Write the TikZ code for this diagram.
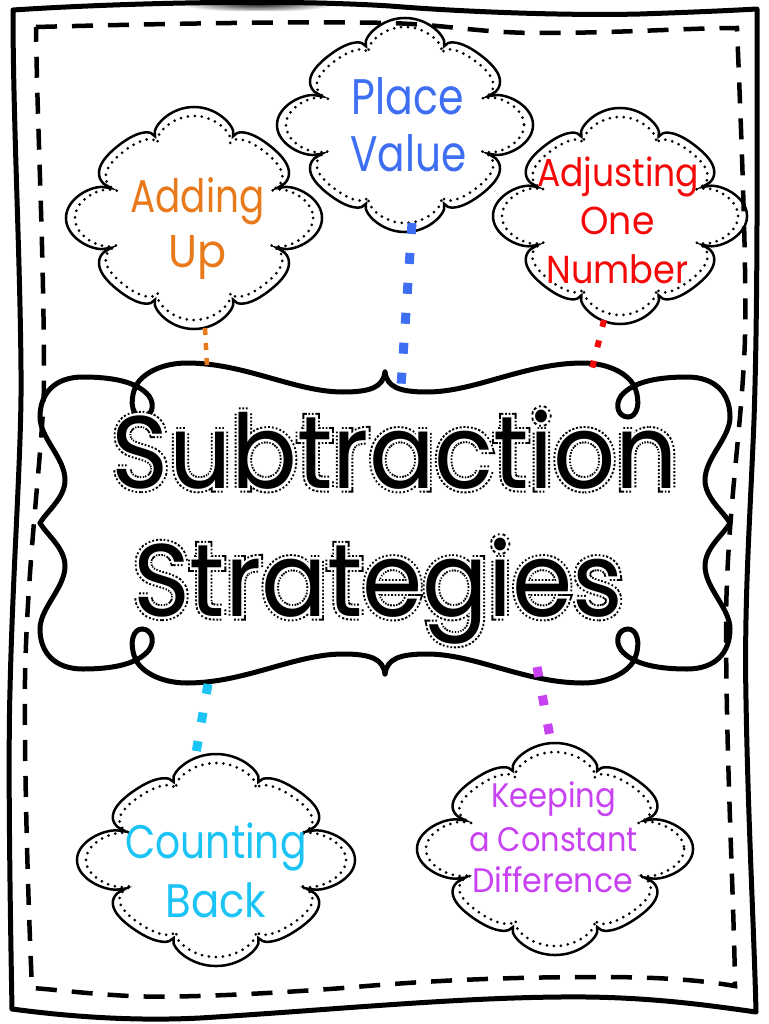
\documentclass[tikz,border=0pt]{standalone}
\usepackage{fontspec}
\usepackage{graphicx}
\newfontfamily\pop{Poppins}
\definecolor{cOrange}{RGB}{232,122,28}
\definecolor{cBlue}{RGB}{62,110,242}
\definecolor{cRed}{RGB}{244,8,8}
\definecolor{cCyan}{RGB}{28,196,245}
\definecolor{cPurple}{RGB}{200,66,242}
\newcommand\fitline[3]{{\fontsize{#1}{#1}\selectfont\resizebox{#2pt}{\height}{#3}}}
\newcommand\dotglyphs[1]{%
  \rlap{\special{pdf:literal direct 1 Tr 9 w [1.8 1.8] 0 d 0 J 0 G}#1\special{pdf:literal direct 0 Tr}}%
  \rlap{\special{pdf:literal direct 1 Tr 5 w [] 0 d 1 G}#1\special{pdf:literal direct 0 Tr}}%
  #1}
\newcommand\fq{(0,151) .. controls (2,136) and (14,131) .. (42,131)
  .. controls (90,131) and (140,160) .. (198,160)
  .. controls (225,160) and (245,148) .. (250,135)
  .. controls (256,120) and (252,106) .. (243,106)
  .. controls (234,106) and (229,117) .. (236,127)
  .. controls (248,142) and (275,146) .. (302,146)
  .. controls (330,146) and (345,130) .. (345,106)
  .. controls (345,85) and (320,65) .. (320,43)
  .. controls (320,25) and (338,12) .. (345,0)}
\tikzset{
  border/.style={line width=5pt, line join=round},
  dashframe/.style={line width=4.5pt, dash pattern=on 21pt off 15pt},
  cloudout/.style={fill=white, draw=black, line width=2.5pt},
  clouddot/.style={draw=black, line width=3pt, line cap=round, dash pattern=on 0pt off 7pt},
  frameline/.style={line width=5pt, line cap=round},
  ctext/.style={inner sep=0pt, anchor=base, font=\pop},
  link/.style={line cap=butt}
}
\newcommand\flower[4]{%
  \filldraw[cloudout] plot[domain=0:360,samples=289,variable=\t]
    ({#1+#3*cf(\t)*cos(\t)},{#2+#4*cf(\t)*sin(\t)}) -- cycle;
  \draw[clouddot] plot[domain=0:360,samples=289,variable=\t]
    ({#1+(#3-9)*cf(\t)*cos(\t)},{#2+(#4-9)*cf(\t)*sin(\t)}) -- cycle;
}
\begin{document}
\begin{tikzpicture}[x=1pt, y=-1pt,
  declare function={ck(\t)=0.74-0.07*cos(2*\t);
    cf(\t)=ck(\t)+(1-0.12*(sin(2*\t))^2-ck(\t))*(abs(cos(4*\t))+0.001)^0.45;}]
\useasboundingbox (0,0) rectangle (768,1024);
\fill[white] (0,0) rectangle (768,1024);
% smudge at the top edge
\begin{scope}
  \clip (150,0) rectangle (370,11);
  \shade[inner color=black, outer color=white] (258,3) ellipse (80 and 9);
\end{scope}
% outer sheet
\draw[border] (13,10) .. controls (120,3) and (280,-1) .. (390,6)
  .. controls (450,11) and (560,16) .. (640,14)
  .. controls (700,12) and (740,10) .. (757,9)
  .. controls (757,150) and (758,300) .. (754,420)
  .. controls (750,520) and (744,600) .. (746,700)
  .. controls (748,820) and (754,930) .. (756,1012)
  .. controls (700,1004) and (640,996) .. (560,997)
  .. controls (450,998) and (330,1010) .. (200,1018)
  .. controls (120,1022) and (50,1014) .. (12,1009)
  .. controls (10,900) and (8,760) .. (10,690)
  .. controls (13,560) and (22,450) .. (21,370)
  .. controls (20,250) and (13,120) .. cycle;
% clouds
\flower{194}{218}{128}{111}
\flower{405}{125}{128}{107}
\flower{620}{216}{127}{108}
\flower{216}{860}{139}{106}
\flower{555}{849}{138}{106}
% dashed frame
\draw[dashframe] (36,27) .. controls (150,24) and (300,21) .. (390,23)
  .. controls (450,25) and (480,33) .. (540,33)
  .. controls (620,33) and (690,28) .. (737,28)
  .. controls (742,150) and (748,300) .. (744,360)
  .. controls (740,440) and (727,520) .. (726,620)
  .. controls (726,760) and (734,900) .. (735,986)
  .. controls (700,980) and (660,977) .. (600,977)
  .. controls (480,977) and (400,983) .. (343,988)
  .. controls (250,995) and (170,998) .. (130,996)
  .. controls (90,994) and (60,990) .. (32,988)
  .. controls (28,900) and (24,760) .. (25,680)
  .. controls (27,560) and (44,440) .. (44,380)
  .. controls (44,250) and (37,120) .. cycle;
% central frame
\begin{scope}[shift={(385,523)}, xscale=1, yscale=-1] \draw[frameline] \fq; \end{scope}
\begin{scope}[shift={(385,523)}, xscale=-1, yscale=-1] \draw[frameline] \fq; \end{scope}
\begin{scope}[shift={(385,523)}, xscale=1, yscale=1] \draw[frameline] \fq; \end{scope}
\begin{scope}[shift={(385,523)}, xscale=-1, yscale=1] \draw[frameline] \fq; \end{scope}
% connector end points
\coordinate (au-s) at (205,328); \coordinate (au-e) at (207,367);
\coordinate (pv-s) at (412,223); \coordinate (pv-e) at (401,386);
\coordinate (an-s) at (604,320); \coordinate (an-e) at (591,373);
\coordinate (cb-e) at (208,684); \coordinate (cb-s) at (196,753);
\coordinate (kd-e) at (537,667); \coordinate (kd-s) at (550,737);
\draw[link, cOrange, line width=4.5pt, dash pattern=on 7pt off 8pt] (au-s) -- (au-e);
\draw[link, cBlue, line width=9pt, dash pattern=on 11pt off 19pt] (pv-s) -- (pv-e);
\draw[link, cRed, line width=6pt, dash pattern=on 7pt off 14pt] (an-s) -- (an-e);
\draw[link, cCyan, line width=9pt, dash pattern=on 10pt off 19pt] (cb-e) -- (cb-s);
\draw[link, cPurple, line width=9pt, dash pattern=on 10pt off 19pt] (kd-e) -- (kd-s);
% cloud texts
\node[ctext, cOrange] (au1) at (197.5,212) {\fitline{46}{134}{Adding}};
\node[ctext, cOrange] (au2) at (197.5,268) {\fitline{46}{58}{Up}};
\node[ctext, cBlue] (pv1) at (407.5,115) {\fitline{50}{112}{Place}};
\node[ctext, cBlue] (pv2) at (408.5,172) {\fitline{50}{116}{Value}};
\node[ctext, cRed] (an1) at (618,187) {\fitline{39}{162}{Adjusting}};
\node[ctext, cRed] (an2) at (617.5,235) {\fitline{39}{74}{One}};
\node[ctext, cRed] (an3) at (617.5,283) {\fitline{39}{142}{Number}};
\node[ctext, cCyan] (cb1) at (216,858) {\fitline{47}{181}{Counting}};
\node[ctext, cCyan] (cb2) at (216,917) {\fitline{47}{101}{Back}};
\node[ctext, cPurple] (kd1) at (553.5,807) {\fitline{34}{125}{Keeping}};
\node[ctext, cPurple] (kd2) at (553.5,851) {\fitline{34}{169}{a Constant}};
\node[ctext, cPurple] (kd3) at (552.5,892) {\fitline{34}{161}{Difference}};
% title
\node[ctext, black] (t1) at (395,488) {\fitline{103}{566}{\dotglyphs{Subtraction}}};
\node[ctext, black] (t2) at (378,616) {\fitline{103}{490}{\dotglyphs{Strategies}}};
\end{tikzpicture}
\end{document}
